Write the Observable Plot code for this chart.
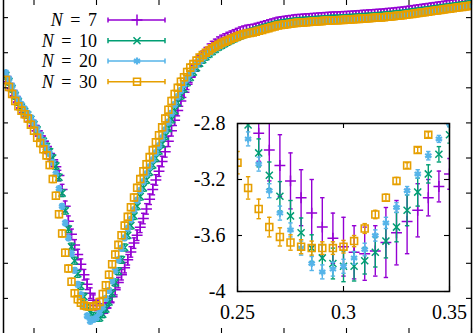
<!DOCTYPE html>
<html><head><meta charset="utf-8">
<script src="https://cdn.jsdelivr.net/npm/d3@7"></script>
<script src="https://cdn.jsdelivr.net/npm/@observablehq/plot@0.6"></script>
<style>
body{margin:0;background:#fff;}
#wrap{position:relative;width:474px;height:333px;overflow:hidden;font-family:"Liberation Serif","Times New Roman",serif;}
#wrap > svg{position:absolute;}
</style></head><body><div id="wrap"></div>
<script>
// ---------- data ----------
const xs = [
0.155,0.16,0.165,0.17,0.175,0.18,0.185,0.19,0.195,0.2,
0.205,0.21,0.215,0.22,0.225,0.23,0.235,0.24,0.245,0.25,
0.255,0.26,0.265,0.27,0.275,0.28,0.285,0.29,0.295,0.3,
0.305,0.31,0.315,0.32,0.325,0.33,0.335,0.34,0.345,0.35,
0.355,0.36,0.365,0.37,0.375,0.38,0.385,0.39,0.395,0.4,
0.405,0.41,0.415,0.42,0.425,0.43,0.435,0.44,0.445,0.45,
0.455,0.46,0.465,0.47,0.475,0.48,0.485,0.49,0.495,0.5,
0.505,0.51,0.515,0.52,0.525,0.53,0.535,0.54,0.545,0.55,
0.555,0.56,0.565,0.57,0.575,0.58,0.585,0.59,0.595,0.6,
0.605,0.61,0.615,0.62,0.625,0.63,0.635,0.64,0.645,0.65,
0.655,0.66,0.665,0.67,0.675,0.68,0.685,0.69,0.695,0.7,
0.705,0.71,0.715,0.72,0.725,0.73,0.735,0.74,0.745,0.75,
0.755,0.76,0.765,0.77,0.775,0.78,0.785,0.79,0.795,0.8,
0.805,0.81,0.815,0.82,0.825,0.83,0.835,0.84,0.845,0.85,
0.855,0.86,0.865,0.87,0.875,0.88,0.885,0.89,0.895,0.9];

const n7 = [
-1.07,-1.15,-1.23,-1.30,-1.37,-1.43,-1.48,-1.53,-1.58,-1.63,
-1.69,-1.75,-1.81,-1.87,-1.95,-2.02,-2.10,-2.20,-2.36,-2.55,
-2.72,-2.87,-2.99,-3.10,-3.21,-3.33,-3.44,-3.54,-3.62,-3.68,
-3.72,-3.73,-3.71,-3.65,-3.58,-3.50,-3.42,-3.33,-3.25,-3.16,
-3.07,-2.97,-2.88,-2.79,-2.69,-2.58,-2.47,-2.36,-2.25,-2.15,
-2.04,-1.93,-1.81,-1.69,-1.57,-1.46,-1.35,-1.25,-1.16,-1.08,
-1.01,-0.95,-0.89,-0.84,-0.80,-0.76,-0.73,-0.705,-0.68,-0.66,
-0.643,-0.627,-0.612,-0.597,-0.582,-0.567,-0.556,-0.546,-0.54,-0.535,
-0.525,-0.515,-0.505,-0.495,-0.485,-0.475,-0.465,-0.455,-0.45,-0.445,
-0.44,-0.435,-0.43,-0.425,-0.423,-0.42,-0.417,-0.415,-0.412,-0.41,
-0.407,-0.405,-0.402,-0.40,-0.397,-0.395,-0.395,-0.393,-0.391,-0.389,
-0.387,-0.385,-0.382,-0.38,-0.377,-0.375,-0.372,-0.37,-0.367,-0.365,
-0.363,-0.36,-0.355,-0.353,-0.35,-0.345,-0.342,-0.338,-0.333,-0.328,
-0.323,-0.318,-0.313,-0.308,-0.303,-0.298,-0.293,-0.288,-0.283,-0.278,
-0.273,-0.268,-0.263,-0.258,-0.253,-0.248,-0.243,-0.238,-0.233,-0.228];

const n10 = [
-1.06,-1.13,-1.21,-1.29,-1.36,-1.42,-1.47,-1.51,-1.56,-1.62,
-1.68,-1.75,-1.81,-1.87,-1.93,-2.00,-2.09,-2.22,-2.40,-2.60,
-2.81,-3.01,-3.17,-3.32,-3.46,-3.58,-3.69,-3.76,-3.80,-3.82,
-3.82,-3.78,-3.72,-3.64,-3.54,-3.42,-3.29,-3.16,-3.02,-2.88,
-2.77,-2.66,-2.55,-2.44,-2.34,-2.25,-2.16,-2.08,-2.00,-1.92,
-1.84,-1.75,-1.66,-1.56,-1.46,-1.37,-1.29,-1.21,-1.14,-1.08,
-1.02,-0.97,-0.92,-0.88,-0.845,-0.815,-0.785,-0.76,-0.735,-0.715,
-0.695,-0.675,-0.657,-0.64,-0.623,-0.607,-0.593,-0.58,-0.568,-0.557,
-0.545,-0.534,-0.523,-0.513,-0.503,-0.493,-0.483,-0.473,-0.467,-0.462,
-0.457,-0.452,-0.447,-0.442,-0.44,-0.437,-0.434,-0.432,-0.429,-0.427,
-0.424,-0.422,-0.419,-0.417,-0.414,-0.412,-0.412,-0.41,-0.408,-0.406,
-0.404,-0.402,-0.399,-0.397,-0.394,-0.392,-0.389,-0.387,-0.384,-0.382,
-0.38,-0.377,-0.372,-0.37,-0.367,-0.362,-0.359,-0.355,-0.35,-0.345,
-0.34,-0.335,-0.33,-0.325,-0.32,-0.315,-0.31,-0.305,-0.3,-0.295,
-0.29,-0.285,-0.28,-0.275,-0.27,-0.265,-0.26,-0.255,-0.25,-0.245];

const n20 = [
-1.03,-1.10,-1.18,-1.26,-1.33,-1.39,-1.44,-1.49,-1.54,-1.60,
-1.67,-1.74,-1.81,-1.88,-1.95,-2.05,-2.18,-2.35,-2.55,-2.74,
-2.91,-3.09,-3.28,-3.44,-3.56,-3.69,-3.80,-3.86,-3.84,-3.82,
-3.76,-3.70,-3.60,-3.51,-3.40,-3.28,-3.16,-3.03,-2.91,-2.80,
-2.70,-2.59,-2.48,-2.37,-2.27,-2.18,-2.10,-2.02,-1.94,-1.86,
-1.77,-1.68,-1.59,-1.49,-1.39,-1.30,-1.23,-1.16,-1.10,-1.04,
-0.99,-0.94,-0.90,-0.86,-0.83,-0.80,-0.775,-0.75,-0.73,-0.71,
-0.69,-0.672,-0.655,-0.638,-0.622,-0.606,-0.593,-0.581,-0.572,-0.563,
-0.552,-0.542,-0.532,-0.522,-0.512,-0.502,-0.492,-0.482,-0.477,-0.472,
-0.467,-0.462,-0.457,-0.452,-0.45,-0.447,-0.444,-0.442,-0.439,-0.437,
-0.434,-0.432,-0.429,-0.427,-0.424,-0.422,-0.422,-0.42,-0.418,-0.416,
-0.414,-0.412,-0.409,-0.407,-0.404,-0.402,-0.399,-0.397,-0.394,-0.392,
-0.39,-0.387,-0.382,-0.38,-0.377,-0.372,-0.369,-0.365,-0.36,-0.355,
-0.35,-0.345,-0.34,-0.335,-0.33,-0.325,-0.32,-0.315,-0.31,-0.305,
-0.3,-0.295,-0.29,-0.285,-0.28,-0.275,-0.27,-0.265,-0.26,-0.255];

const n30 = [
-1.11,-1.19,-1.27,-1.35,-1.41,-1.46,-1.50,-1.55,-1.62,-1.69,
-1.77,-1.83,-1.90,-1.97,-2.08,-2.24,-2.43,-2.64,-2.86,-3.08,
-3.26,-3.41,-3.54,-3.61,-3.65,-3.68,-3.69,-3.69,-3.69,-3.68,
-3.64,-3.55,-3.45,-3.33,-3.21,-3.10,-2.99,-2.88,-2.77,-2.67,
-2.56,-2.45,-2.34,-2.24,-2.15,-2.07,-1.99,-1.91,-1.82,-1.74,
-1.65,-1.55,-1.45,-1.35,-1.27,-1.20,-1.13,-1.08,-1.02,-0.97,
-0.93,-0.89,-0.855,-0.825,-0.80,-0.775,-0.75,-0.73,-0.71,-0.69,
-0.675,-0.66,-0.645,-0.63,-0.615,-0.60,-0.59,-0.58,-0.575,-0.57,
-0.56,-0.55,-0.54,-0.53,-0.52,-0.51,-0.50,-0.49,-0.485,-0.48,
-0.475,-0.47,-0.465,-0.46,-0.458,-0.455,-0.452,-0.45,-0.447,-0.445,
-0.442,-0.44,-0.437,-0.435,-0.432,-0.43,-0.43,-0.428,-0.426,-0.424,
-0.422,-0.42,-0.417,-0.415,-0.412,-0.41,-0.407,-0.405,-0.402,-0.40,
-0.398,-0.395,-0.39,-0.388,-0.385,-0.38,-0.377,-0.373,-0.368,-0.363,
-0.358,-0.353,-0.348,-0.343,-0.338,-0.333,-0.328,-0.323,-0.318,-0.313,
-0.308,-0.303,-0.298,-0.293,-0.288,-0.283,-0.278,-0.273,-0.268,-0.263];

// error bars in the main panel (one value per series)
const errMain = [0.06, 0.04, 0.03, 0.04];

// inset: x values and their error bars
const insetXs = [0.25,0.255,0.26,0.265,0.27,0.275,0.28,0.285,0.29,0.295,0.3,0.305,0.31,0.315,0.32,0.325,0.33,0.335,0.34,0.345,0.35];
const insetErr7  = [0.2,0.2,0.2,0.22,0.22,0.2,0.2,0.24,0.21,0.18,0.21,0.19,0.19,0.18,0.25,0.23,0.23,0.19,0.13,0.11,0.11];
const insetErr10 = [0.1,0.1,0.1,0.095,0.105,0.11,0.105,0.095,0.095,0.11,0.11,0.105,0.095,0.105,0.12,0.105,0.11,0.1,0.065,0.055,0.06];
const insetErr20 = [0.05,0.05,0.05,0.05,0.05,0.05,0.05,0.05,0.05,0.05,0.05,0.045,0.045,0.04,0.04,0.035,0.03,0.03,0.03,0.025,0.025];
const insetErr30 = [0.08,0.08,0.07,0.07,0.065,0.055,0.05,0.05,0.045,0.045,0.045,0.04,0.035,0.03,0.025,0.025,0.02,0.02,0.02,0.02,0.02];

const seriesN = ["7", "10", "20", "30"];
const mainXDomain = [0.1512, 0.9];
const mainYDomain = [-4, -0.205];
const mainXTicks = [0.2,0.3,0.4,0.5,0.6,0.7,0.8,0.9];
const mainYTicks = [-3.6,-3.2,-2.8,-2.4,-2.0,-1.6,-1.2,-0.8,-0.4];
const insetXDomain = [0.25, 0.35];
const insetYDomain = [-4, -2.8];
const insetXTicks = [0.25, 0.3, 0.35];
const insetYTicks = [-4, -3.6, -3.2, -2.8];

// ---------- styling ----------
const colors  = ["#9400d3", "#009e73", "#56b4e9", "#e69f00"];
const symbols = ["plus", "times", "asterisk", "square2"];
const symR    = [3.6, 3.3, 3.4, 4.4];
const symW    = [1.5, 1.5, 2.2, 1.6];
const series  = [n7, n10, n20, n30];
const insetErr = [insetErr7, insetErr10, insetErr20, insetErr30];
const W = 474, H = 333;
const serif = '"Liberation Serif","Times New Roman",serif';

const capSym = { draw(ctx, size) { const r = Math.sqrt(size / Math.PI); ctx.moveTo(-r, 0); ctx.lineTo(r, 0); } };

function errMarks(rows, s, capR, clipDots) {
  const c = colors[s];
  return [
    Plot.ruleX(rows, {x: "x", y1: d => d.y - d.e, y2: d => d.y + d.e, stroke: c, strokeWidth: 1.4, clip: true}),
    Plot.dot(rows, {x: "x", y: d => d.y - d.e, symbol: capSym, r: capR, stroke: c, fill: "none", strokeWidth: 1.4, clip: true}),
    Plot.dot(rows, {x: "x", y: d => d.y + d.e, symbol: capSym, r: capR, stroke: c, fill: "none", strokeWidth: 1.4, clip: true}),
    Plot.dot(clipDots, {x: "x", y: "y", symbol: symbols[s], r: symR[s], stroke: c, fill: "none", strokeWidth: symW[s], clip: true})
  ];
}

// ---------- main panel ----------
const mainMarks = [];
series.forEach((vals, s) => {
  const rows = vals.map((v, i) => ({x: xs[i], y: v, e: errMain[s]}));
  mainMarks.push(...errMarks(rows, s, 2.4, rows));
});

const main = Plot.plot({
  width: W, height: H,
  marginLeft: 3, marginRight: 3, marginTop: 0, marginBottom: 0,
  style: {background: "transparent"},
  x: {domain: mainXDomain, axis: null},
  y: {domain: mainYDomain, axis: null},
  marks: [
    ...mainMarks,
    Plot.tickX(mainXTicks, {x: d => d, stroke: "black", strokeWidth: 1.1, insetBottom: H - 5}),
    Plot.tickX(mainXTicks, {x: d => d, stroke: "black", strokeWidth: 1.1, insetTop: H - 5}),
    Plot.tickY(mainYTicks, {y: d => d, stroke: "black", strokeWidth: 1.1, insetRight: W - 6 - 5}),
    Plot.tickY(mainYTicks, {y: d => d, stroke: "black", strokeWidth: 1.1, insetLeft: W - 6 - 5}),
    Plot.ruleX(mainXDomain, {x: d => d, stroke: "black", strokeWidth: 1.5})
  ]
});
main.style.left = "0px"; main.style.top = "0px";
document.getElementById("wrap").appendChild(main);

// ---------- inset ----------
const insetMarks = [];
series.forEach((vals, s) => {
  const rows = insetXs.map((x, j) => {
    const i = xs.findIndex(v => Math.abs(v - x) < 1e-9);
    return {x, y: vals[i], e: insetErr[s][j]};
  });
  const shown = rows.filter(d => d.y >= insetYDomain[0] && d.y <= insetYDomain[1]);
  insetMarks.push(...errMarks(rows, s, 2.2, shown));
});

const IW = 294, IH = 222, IML = 57, IMR = 25, IMT = 13, IMB = 41;
const inset = Plot.plot({
  width: IW, height: IH,
  marginLeft: IML, marginRight: IMR, marginTop: IMT, marginBottom: IMB,
  style: {background: "transparent", fontFamily: serif, fontSize: "20px"},
  x: {domain: insetXDomain},
  y: {domain: insetYDomain},
  marks: [
    Plot.frame({fill: "white", stroke: null}),
    ...insetMarks,
    Plot.tickX(insetXTicks, {x: d => d, stroke: "black", strokeWidth: 1.1, insetBottom: IH - IMT - IMB - 5}),
    Plot.tickX(insetXTicks, {x: d => d, stroke: "black", strokeWidth: 1.1, insetTop: IH - IMT - IMB - 5}),
    Plot.tickY(insetYTicks, {y: d => d, stroke: "black", strokeWidth: 1.1, insetRight: IW - IML - IMR - 5}),
    Plot.tickY(insetYTicks, {y: d => d, stroke: "black", strokeWidth: 1.1, insetLeft: IW - IML - IMR - 5}),
    Plot.frame({stroke: "black", strokeWidth: 1.5, fill: "none"}),
    Plot.axisX({ticks: insetXTicks, tickSize: 0, tickPadding: 13, tickFormat: d => String(d), label: null, fontSize: 20, fill: "black"}),
    Plot.axisY({ticks: insetYTicks, tickSize: 0, tickPadding: 12, tickFormat: d => String(d), label: null, fontSize: 20, fill: "black"})
  ]
});
inset.style.left = "180px"; inset.style.top = "110px";
document.getElementById("wrap").appendChild(inset);

// ---------- legend ----------
const legendRowY = [20, 40.7, 61, 81.7];
const leg = d3.select("#wrap").append("svg")
  .attr("width", 200).attr("height", 100)
  .style("left", "0px").style("top", "0px");
const symMap = {plus: d3.symbolPlus, times: d3.symbolTimes, asterisk: d3.symbolAsterisk, square2: d3.symbolSquare2};
seriesN.forEach((n, s) => {
  const y = legendRowY[s];
  const t = leg.append("text").attr("x", 97).attr("y", y + 6.3)
    .attr("text-anchor", "end").attr("font-family", serif).attr("font-size", 18)
    .attr("word-spacing", 3).attr("fill", "black");
  t.append("tspan").attr("font-style", "italic").text("N");
  t.append("tspan").text(" = " + n);
  const g = leg.append("g").attr("stroke", colors[s]).attr("fill", "none").attr("stroke-width", 1.5);
  g.append("line").attr("x1", 108).attr("x2", 165).attr("y1", y).attr("y2", y);
  g.append("line").attr("x1", 108).attr("x2", 108).attr("y1", y - 2.6).attr("y2", y + 2.6);
  g.append("line").attr("x1", 165).attr("x2", 165).attr("y1", y - 2.6).attr("y2", y + 2.6);
  g.append("path").attr("transform", `translate(137,${y})`)
    .attr("stroke-width", symW[s])
    .attr("d", d3.symbol(symMap[symbols[s]], Math.PI * symR[s] * symR[s])());
});
</script>
</body></html>
